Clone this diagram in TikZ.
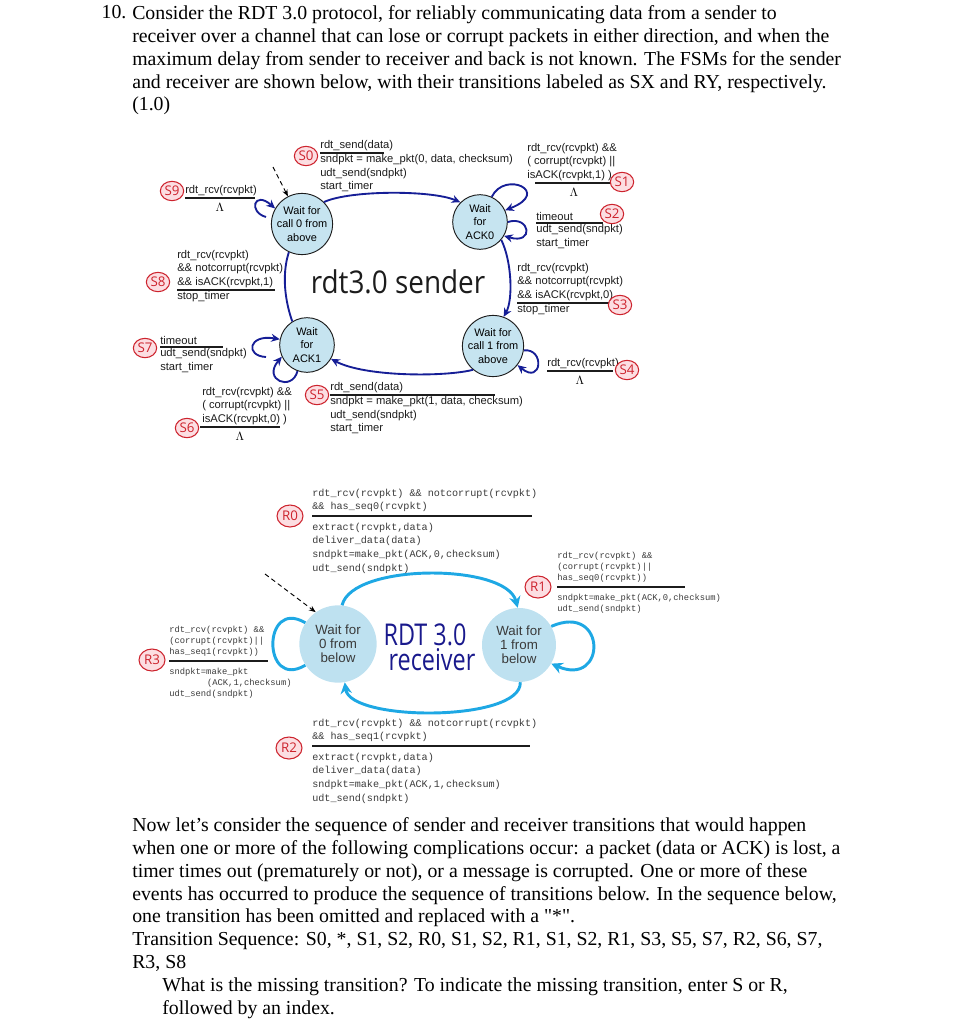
\documentclass[tikz,border=0pt]{standalone}
\usepackage{fontspec}
\setmainfont{Liberation Serif}
\newfontfamily\sansf{Liberation Sans}
\newfontfamily\monof{Liberation Mono}
\newfontfamily\titlef{Open Sans}
\newcommand\straightq{\XeTeXglyph\XeTeXcharglyph"22\relax}
\usetikzlibrary{arrows.meta,shapes.geometric,positioning}
\definecolor{ink}{RGB}{28,28,28}
\definecolor{sblue}{RGB}{22,30,150}
\definecolor{rblue}{RGB}{30,168,228}
\definecolor{sfill}{RGB}{198,228,240}
\definecolor{rfill}{RGB}{190,225,240}
\definecolor{rtext}{RGB}{58,58,58}
\definecolor{navy}{RGB}{25,25,140}
\definecolor{tagred}{RGB}{205,35,45}
\definecolor{tagpink}{RGB}{252,222,226}

\begin{document}
\begin{tikzpicture}[x=0.75pt,y=-0.75pt,
  para/.style={anchor=north west,inner sep=0pt,align=left,font=\fontsize{14.85}{17.2}\selectfont},
  sstate/.style={circle,draw=ink,line width=.7pt,fill=sfill,minimum size=41pt,inner sep=0pt,align=center,font=\sansf\fontsize{8.2}{10}\selectfont},
  rstate/.style={circle,fill=rfill,minimum size=58pt,inner sep=0pt,align=center,text=rtext,font=\sansf\fontsize{10}{10.5}\selectfont},
  sarr/.style={-{Stealth[length=6.5pt,width=6pt]},draw=sblue,line width=1.4pt},
  sln/.style={draw=sblue,line width=1.4pt},
  rarr/.style={-{Stealth[length=8.5pt,width=8.5pt]},draw=rblue,line width=2.2pt},
  rln/.style={draw=rblue,line width=2.2pt},
  initarr/.style={-{Stealth[length=5pt,width=4pt]},line width=.7pt,dash pattern=on 3.5pt off 2.5pt},
  badge/.style={ellipse,draw=tagred,fill=tagpink,line width=.8pt,text=tagred,inner sep=0pt,minimum width=17.5pt,minimum height=14.5pt,font=\titlef\fontsize{10}{10}\selectfont},
  rbadge/.style={minimum width=19.5pt,minimum height=16.5pt},
  rulel/.style={draw=ink,line width=.8pt},
  sev/.style={anchor=south west,inner xsep=0pt,inner ysep=1.5pt,align=left,text=ink,font=\sansf\fontsize{8.4}{10.2}\selectfont},
  sact/.style={sev,anchor=north west,inner ysep=1pt},
  lam/.style={anchor=north,inner xsep=0pt,inner ysep=3.5pt,font=\fontsize{9}{9}\selectfont},
  rev/.style={anchor=south west,inner xsep=0pt,inner ysep=3pt,align=left,text=rtext,font=\monof\fontsize{7.6}{10.2}\selectfont},
  ract/.style={rev,anchor=north west,inner ysep=5pt},
  rsmall/.style={font=\monof\fontsize{6.6}{8.4}\selectfont},
  rtitle/.style={anchor=base,inner sep=0pt,text=navy,font=\titlef\fontsize{22.5}{22.5}\selectfont}]
\useasboundingbox (0,0) rectangle (962,1024);

% question
\node[para] (qtop) at (132,5) {Consider the RDT 3.0 protocol, for reliably communicating data from a sender to\\
receiver over a channel that can lose or corrupt packets in either direction, and when the\\
maximum delay from sender to receiver and back is not known. The FSMs for the sender\\
and receiver are shown below, with their transitions labeled as SX and RY, respectively.\\
(1.0)};
\node[para,anchor=north east] (qnum) at ([xshift=-4pt]qtop.north west) {10.};

% sender states
\node[sstate] (c0) at (302,224) {Wait for\\call 0 from\\above};
\node[sstate] (a0) at (480,222) {Wait\\for\\ACK0};
\node[sstate] (c1) at (493,346) {Wait for\\call 1 from\\above};
\node[sstate] (a1) at (307,345) {Wait\\for\\ACK1};
\node[anchor=base,inner sep=0pt,text=ink,font=\titlef\fontsize{23.5}{24}\selectfont] (stitle) at (398,293) {\scalebox{.89}[1]{rdt3.0 sender}};

% sender transitions
\coordinate (sinit) at (273,167);
\draw[initarr] (sinit) -- (c0);
\draw[sarr] (c0.45) .. controls (350,190) and (432,190) .. (a0.135);
\draw[sarr] (a0.-40) .. controls (512,262) and (513,300) .. (c1.70);
\draw[sarr] (c1.-130) .. controls (445,377) and (365,377) .. (a1.-30);
\draw[sln] (a1.122) .. controls (283,295) and (283,270) .. (c0.-115);
\coordinate (s9t) at (266,217);
\draw[sarr] (s9t) .. controls (248,212) and (254,190) .. (c0.150);
\draw[sarr] (a0.65) .. controls (505,170) and (552,192) .. (a0.25);
\draw[sarr] (a0.0) .. controls (530,215) and (535,245) .. (a0.-30);
\coordinate (s7t) at (266,357);
\draw[sarr] (s7t) .. controls (245,356) and (248,334) .. (a1.168);
\draw[sarr] (a1.-110) .. controls (292,392) and (262,380) .. (a1.205);
\draw[sarr] (c1.-8) .. controls (545,348) and (542,385) .. (c1.-38);

% sender labels
\draw[rulel] (320,153) coordinate (s0r) -- (384,153);
\node[sev] (s0e) at (s0r) {rdt\_send(data)};
\node[sact] (s0a) at (s0r) {sndpkt = make\_pkt(0, data, checksum)\\udt\_send(sndpkt)\\start\_timer};
\node[badge] (s0b) at (306,156) {S0};

\draw[rulel] (535,183) coordinate (s1r) -- node[lam] (s1l) {$\Lambda$} (613,183);
\node[sev] (s1e) at (527,183) {rdt\_rcv(rcvpkt) \&\&\\( corrupt(rcvpkt) ||\\isACK(rcvpkt,1) )};
\node[badge] (s1b) at (622,182) {S1};

\draw[rulel] (536,223) coordinate (s2r) -- (603,223);
\node[sev] (s2e) at (s2r) {timeout};
\node[sact] (s2a) at (s2r) {udt\_send(sndpkt)\\start\_timer};
\node[badge] (s2b) at (612,214) {S2};

\draw[rulel] (517,303) coordinate (s3r) -- (610,303);
\node[sev] (s3e) at (s3r) {rdt\_rcv(rcvpkt)\\\&\& notcorrupt(rcvpkt)\\\&\& isACK(rcvpkt,0)};
\node[sact] (s3a) at (s3r) {stop\_timer};
\node[badge] (s3b) at (620,305) {S3};

\draw[rulel] (547,371) coordinate (s4r) -- node[lam] (s4l) {$\Lambda$} (613,371);
\node[sev] (s4e) at (s4r) {rdt\_rcv(rcvpkt)};
\node[badge] (s4b) at (627,370) {S4};

\draw[rulel] (330,395) coordinate (s5r) -- (495,395);
\node[sev] (s5e) at (s5r) {rdt\_send(data)};
\node[sact] (s5a) at (s5r) {sndpkt = make\_pkt(1, data, checksum)\\udt\_send(sndpkt)\\start\_timer};
\node[badge] (s5b) at (317,395) {S5};

\draw[rulel] (200,427) coordinate (s6r) -- node[lam] (s6l) {$\Lambda$} (280,427);
\node[sev] (s6e) at (202,427) {rdt\_rcv(rcvpkt) \&\&\\( corrupt(rcvpkt) ||\\isACK(rcvpkt,0) )};
\node[badge] (s6b) at (187,428) {S6};

\draw[rulel] (160,347) coordinate (s7r) -- (223,347);
\node[sev] (s7e) at (s7r) {timeout};
\node[sact] (s7a) at (s7r) {udt\_send(sndpkt)\\start\_timer};
\node[badge] (s7b) at (145,348) {S7};

\draw[rulel] (177,290) coordinate (s8r) -- (275,290);
\node[sev] (s8e) at (s8r) {rdt\_rcv(rcvpkt)\\\&\& notcorrupt(rcvpkt)\\\&\& isACK(rcvpkt,1)};
\node[sact] (s8a) at (s8r) {stop\_timer};
\node[badge] (s8b) at (158,282) {S8};

\draw[rulel] (185,198) coordinate (s9r) -- node[lam] (s9l) {$\Lambda$} (255,198);
\node[sev] (s9e) at (s9r) {rdt\_rcv(rcvpkt)};
\node[badge] (s9b) at (172,191) {S9};

% receiver states
\node[rstate] (r0) at (338,644) {Wait for\\0 from\\below};
\node[rstate,minimum size=55.5pt] (r1) at (519,645) {Wait for\\1 from\\below};
\node[rtitle] (rtitle) at (425,645) {\scalebox{.78}[1]{RDT 3.0}};
\node[rtitle] (rtitle2) at (432,670) {\scalebox{.78}[1]{receiver}};

% receiver transitions
\coordinate (rinit) at (265,574);
\draw[initarr] (rinit) -- (r0.125);
\draw[rarr] (r0.84) .. controls (352,563) and (506,563) .. (r1.92);
\draw[rarr] (r1.-88) .. controls (522,722) and (350,722) .. (r0.-80);
\draw[rln] (r0.147) .. controls (262,597) and (262,691) .. (r0.-147);
\draw[rarr] (r1.30) .. controls (607,602) and (607,688) .. (r1.-30);

% receiver labels
\draw[rulel] (312,516) coordinate (r0r) -- (532,516);
\node[rev] (r0e) at (r0r) {rdt\_rcv(rcvpkt) \&\& notcorrupt(rcvpkt)\\\&\& has\_seq0(rcvpkt)};
\node[ract] (r0a) at (r0r) {extract(rcvpkt,data)\\deliver\_data(data)\\sndpkt=make\_pkt(ACK,0,checksum)\\udt\_send(sndpkt)};
\node[badge,rbadge] (r0b) at (290,516) {R0};

\draw[rulel] (557,587) coordinate (r1r) -- (685,587);
\node[rev,rsmall] (r1e) at (r1r) {rdt\_rcv(rcvpkt) \&\&\\(corrupt(rcvpkt)||\\has\_seq0(rcvpkt))};
\node[ract,rsmall] (r1a) at (r1r) {sndpkt=make\_pkt(ACK,0,checksum)\\udt\_send(sndpkt)};
\node[badge,rbadge] (r1b) at (538,587) {R1};

\draw[rulel] (312,746) coordinate (r2r) -- (530,746);
\node[rev] (r2e) at (r2r) {rdt\_rcv(rcvpkt) \&\& notcorrupt(rcvpkt)\\\&\& has\_seq1(rcvpkt)};
\node[ract] (r2a) at (r2r) {extract(rcvpkt,data)\\deliver\_data(data)\\sndpkt=make\_pkt(ACK,1,checksum)\\udt\_send(sndpkt)};
\node[badge,rbadge] (r2b) at (289,748) {R2};

\draw[rulel] (169,661) coordinate (r3r) -- (268,661);
\node[rev,rsmall] (r3e) at (r3r) {rdt\_rcv(rcvpkt) \&\&\\(corrupt(rcvpkt)||\\has\_seq1(rcvpkt))};
\node[ract,rsmall] (r3a) at (r3r) {sndpkt=make\_pkt\\\hspace*{4.3em}(ACK,1,checksum)\\udt\_send(sndpkt)};
\node[badge,rbadge] (r3b) at (152,660) {R3};

% follow-up question
\node[para] (qbot) at (132,817) {Now let’s consider the sequence of sender and receiver transitions that would happen\\
when one or more of the following complications occur: a packet (data or ACK) is lost, a\\
timer times out (prematurely or not), or a message is corrupted. One or more of these\\
events has occurred to produce the sequence of transitions below. In the sequence below,\\
one transition has been omitted and replaced with a \straightq*\straightq.\\
Transition Sequence: S0, *, S1, S2, R0, S1, S2, R1, S1, S2, R1, S3, S5, S7, R2, S6, S7,\\
R3, S8\\
\hspace*{22.5pt}What is the missing transition? To indicate the missing transition, enter S or R,\\
\hspace*{22.5pt}followed by an index.};
\end{tikzpicture}
\end{document}
